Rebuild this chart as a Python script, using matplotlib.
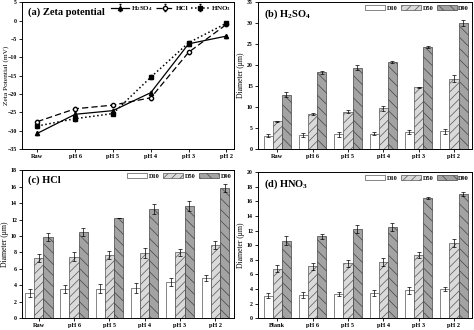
import numpy as np
import matplotlib
matplotlib.use("Agg")
import matplotlib.pyplot as plt

plt.rcParams['font.family'] = 'Liberation Serif'
plt.rcParams['font.weight'] = 'bold'
plt.rcParams['mathtext.fontset'] = 'custom'
plt.rcParams['mathtext.rm'] = 'Liberation Serif:bold'
plt.rcParams['mathtext.bf'] = 'Liberation Serif:bold'
plt.rcParams['mathtext.default'] = 'rm'
plt.rcParams['hatch.linewidth'] = 0.5

# (a) zeta potential
cats = ['Raw', 'pH 6', 'pH 5', 'pH 4', 'pH 3', 'pH 2']
zeta_h2so4 = [-30.7, -25.5, -24.5, -19.6, -6.3, -4.2]
zeta_hcl = [-27.5, -24.0, -23.0, -21.0, -8.6, -1.0]
zeta_hno3 = [-28.7, -26.7, -25.3, -15.4, -6.0, -0.7]
zeta_err = [0.5, 0.5, 0.4, 0.5, 0.4, 0.4]

# (b) H2SO4
b_d10 = [3.2, 3.4, 3.5, 3.7, 4.1, 4.3]
b_d50 = [6.6, 8.4, 8.9, 9.8, 14.7, 16.8]
b_d90 = [13.0, 18.3, 19.4, 20.8, 24.3, 30.1]
b_e10 = [0.4, 0.4, 0.5, 0.4, 0.5, 0.6]
b_e50 = [0.2, 0.2, 0.4, 0.6, 0.2, 0.8]
b_e90 = [0.6, 0.4, 0.6, 0.3, 0.2, 0.7]

# (c) HCl
c_d10 = [3.1, 3.5, 3.6, 3.7, 4.4, 4.9]
c_d50 = [7.3, 7.5, 7.7, 7.9, 8.0, 8.9]
c_d90 = [9.9, 10.5, 12.2, 13.3, 13.6, 15.8]
c_e10 = [0.5, 0.5, 0.6, 0.6, 0.5, 0.4]
c_e50 = [0.5, 0.5, 0.5, 0.6, 0.4, 0.5]
c_e90 = [0.5, 0.5, 0.05, 0.6, 0.6, 0.5]

# (d) HNO3
d_cats = ['Blank', 'pH 6', 'pH 5', 'pH 4', 'pH 3', 'pH 2']
d_d10 = [3.1, 3.2, 3.3, 3.4, 3.8, 4.0]
d_d50 = [6.8, 7.1, 7.5, 7.7, 8.7, 10.3]
d_d90 = [10.6, 11.2, 12.2, 12.5, 16.5, 17.0]
d_e10 = [0.4, 0.4, 0.3, 0.4, 0.5, 0.3]
d_e50 = [0.5, 0.5, 0.5, 0.6, 0.4, 0.6]
d_e90 = [0.6, 0.4, 0.5, 0.6, 0.1, 0.3]

fig = plt.figure(figsize=(4.74, 3.30), dpi=100)
ax_a = fig.add_axes([0.046, 0.548, 0.447, 0.445])
ax_b = fig.add_axes([0.544, 0.548, 0.451, 0.445])
ax_c = fig.add_axes([0.046, 0.036, 0.447, 0.448])
ax_d = fig.add_axes([0.544, 0.036, 0.451, 0.442])

fs_title = 7.5


def style(ax):
    ax.tick_params(direction='out', length=2, width=0.6, top=False, right=False)
    ax.tick_params(axis='y', pad=1.5, labelsize=4.2)
    ax.tick_params(axis='x', pad=1.5, labelsize=4.5)
    for s in ax.spines.values():
        s.set_linewidth(0.7)


x = np.arange(len(cats))
ax_a.errorbar(x, zeta_h2so4, yerr=zeta_err, color='black', ls='-', lw=0.9, marker='^', ms=3,
              capsize=1, elinewidth=0.5, label='H$_2$SO$_4$')
ax_a.errorbar(x, zeta_hcl, yerr=zeta_err, color='black', ls=(0, (5, 2.5)), lw=0.9, marker='o', ms=3,
              mfc='white', capsize=1, elinewidth=0.5, label='HCl')
ax_a.errorbar(x, zeta_hno3, yerr=zeta_err, color='black', ls=':', lw=1.1, marker='s', ms=2.8,
              capsize=1, elinewidth=0.5, label='HNO$_3$')
ax_a.set_xticks(x)
ax_a.set_xticklabels(cats)
ax_a.set_xlim(-0.41, 5.19)
ax_a.set_ylim(-35, 5)
ax_a.set_yticks(range(-35, 6, 5))
ax_a.set_ylabel('Zeta Potential (mV)', fontsize=5.3)
ax_a.yaxis.set_label_coords(-0.062, 0.5)
ax_a.text(0.03, 0.965, '(a) Zeta potential', transform=ax_a.transAxes, fontsize=fs_title,
          fontweight='bold', va='top')
ax_a.legend(loc='upper right', ncol=3, frameon=False, fontsize=5, handlelength=2.6,
            columnspacing=0.4, handletextpad=0.3, borderaxespad=0.1, borderpad=0.2)
style(ax_a)


def bars(ax, labels, d10, d50, d90, e10, e50, e90, title, ymax, ystep, xlim, lx):
    xx = np.arange(len(labels))
    w = 0.26
    ek = dict(elinewidth=0.5, capsize=1.5, capthick=0.5, ecolor='black')
    ax.bar(xx - w, d10, w, yerr=e10, color='white', edgecolor='#555555', lw=0.5,
           error_kw=ek, label='D10')
    ax.bar(xx, d50, w, yerr=e50, color='#dadada', edgecolor='#555555', lw=0.5,
           hatch='////', error_kw=ek, label='D50')
    ax.bar(xx + w, d90, w, yerr=e90, color='#a3a3a3', edgecolor='#444444', lw=0.5,
           hatch='\\\\\\', error_kw=ek, label='D90')
    ax.set_xticks(xx)
    ax.set_xticklabels(labels)
    ax.set_xlim(*xlim)
    ax.set_ylim(0, ymax)
    ax.set_yticks(np.arange(0, ymax + 0.1, ystep))
    ax.set_ylabel('Diameter (μm)', fontsize=5.5)
    ax.yaxis.set_label_coords(lx, 0.5)
    ax.text(0.03, 0.965, title, transform=ax.transAxes, fontsize=fs_title,
            fontweight='bold', va='top')
    ax.legend(loc='upper right', ncol=3, frameon=False, fontsize=4.5, handlelength=3.2,
              handleheight=0.9, columnspacing=0.5, handletextpad=0.3,
              borderaxespad=0.2, borderpad=0.2)
    style(ax)


bars(ax_b, cats, b_d10, b_d50, b_d90, b_e10, b_e50, b_e90, '(b) H$_2$SO$_4$', 35, 5,
     (-0.55, 5.5), -0.058)
bars(ax_c, cats, c_d10, c_d50, c_d90, c_e10, c_e50, c_e90, '(c) HCl', 18, 2,
     (-0.48, 5.52), -0.06)
bars(ax_d, d_cats, d_d10, d_d50, d_d90, d_e10, d_e50, d_e90, '(d) HNO$_3$', 20, 2,
     (-0.55, 5.5), -0.058)

fig.savefig('out.png', dpi=100)
